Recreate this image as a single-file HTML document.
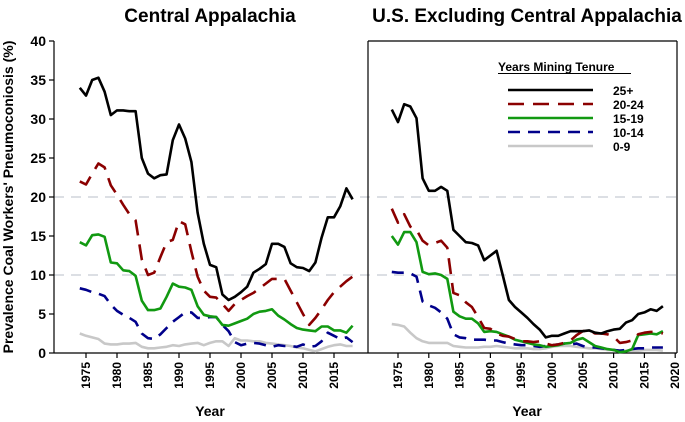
<!DOCTYPE html>
<html><head><meta charset="utf-8"><style>
body{margin:0;background:#fff;}
svg{display:block;font-family:"Liberation Sans",Arial,sans-serif;}
</style></head><body>
<svg id="chart" width="685" height="422" viewBox="0 0 685 422" xmlns="http://www.w3.org/2000/svg"></svg>
<script>
const years = [];
for (let y = 1974; y <= 2018; y++) years.push(y);
const yTicks = [0,5,10,15,20,25,30,35,40];
const leftXTicks = [1975,1980,1985,1990,1995,2000,2005,2010,2015];
const rightXTicks = [1975,1980,1985,1990,1995,2000,2005,2010,2015,2020];
const seriesNames = ["25+","20-24","15-19","10-14","0-9"];
const caBlack = [34,33,35,35.3,33.5,30.5,31.1,31.1,31,31,25,23,22.4,22.8,22.9,27.3,29.3,27.5,24.5,18,14,11.3,11,7.5,6.8,7.2,7.8,8.5,10.3,10.8,11.4,14,14,13.6,11.5,11,10.9,10.5,11.6,14.8,17.4,17.4,18.8,21.1,19.7];
const caRed = [22,21.6,23,24.3,23.8,21.5,20.3,19,17.8,17,12,10,10.3,12.3,14.2,14.5,16.9,16.5,13,9.8,8,7.2,7.1,6.3,5.4,6.3,6.8,7.3,7.7,8.3,8.9,9.5,9.5,9.5,8,6.5,5,3.6,4.5,5.6,6.8,7.8,8.5,9.2,9.8];
const caGreen = [14.2,13.8,15.1,15.2,14.9,11.6,11.5,10.6,10.5,9.9,6.7,5.5,5.5,5.7,7.2,8.9,8.5,8.4,8.1,6,4.9,4.7,4.6,3.6,3.5,3.8,4.1,4.4,5,5.3,5.4,5.6,4.8,4.3,3.7,3.2,3.0,2.9,2.8,3.4,3.4,2.9,2.9,2.6,3.5];
const caBlue = [8.3,8.1,7.8,7.6,7.3,6.2,5.4,4.9,4.5,4,2.5,1.9,1.8,2.4,3.2,4,4.6,5.2,5.2,4.5,4.5,4.6,4.6,3.6,2.8,1.4,1,1.2,1.3,1.2,1,0.8,1,0.9,0.9,0.8,1.1,0.8,0.9,1.5,2.6,2.2,1.8,2,1.4];
const caGray = [2.5,2.2,2,1.8,1.2,1.1,1.1,1.2,1.2,1.3,0.8,0.6,0.6,0.7,0.8,1,0.9,1.1,1.2,1.3,1,1.3,1.5,1.5,0.9,1.9,1.6,1.6,1.5,1.5,1.3,1.2,1.1,1,0.9,0.7,0.6,0.4,0.2,0.5,0.8,1,1.1,0.9,0.9];
const usBlack = [31.2,29.6,31.9,31.6,30.1,22.4,20.8,20.8,21.3,20.8,15.8,15,14.2,14.1,13.8,11.9,12.5,13.1,10,6.8,5.9,5.2,4.5,3.7,3,2,2.2,2.2,2.5,2.8,2.8,2.8,2.9,2.6,2.5,2.8,3,3.1,3.9,4.2,5,5.2,5.6,5.4,6];
const usRed = [18.5,16.7,17.8,16.2,15.8,14.4,13.8,14.1,14.4,13.5,7.7,7.4,6.5,5.9,4.6,3.2,3.1,2.5,2.2,2.1,1.8,1.5,1.5,1.4,1.5,1.2,1,1.1,1.3,1.6,2.3,2.8,2.9,2.5,2.5,2.4,2.1,1.3,1.4,1.6,2.4,2.6,2.7,2.7,2.5];
const usGreen = [15,13.9,15.5,15.5,14.2,10.4,10.1,10.2,10,9.5,5.3,4.7,4.4,4.4,3.8,2.7,2.8,2.7,2.4,2.1,1.7,1.5,1.3,1.1,1,0.8,0.9,1,1.2,1.3,1.7,1.9,1.4,0.9,0.7,0.5,0.4,0.1,0.2,0.5,2.3,2.4,2.5,2.4,2.8];
const usBlue = [10.4,10.3,10.3,10.2,9.8,6.6,6.1,5.8,5.2,4.4,2.4,2,1.9,1.7,1.7,1.7,1.6,1.6,1.4,1.2,1.1,1,1,0.9,0.8,0.9,1,1.1,1.2,1.1,1.2,0.9,0.7,0.7,0.6,0.5,0.4,0.3,0.4,0.5,0.6,0.6,0.7,0.7,0.7];
const usGray = [3.7,3.6,3.4,2.6,1.9,1.5,1.3,1.3,1.3,1.3,0.9,0.8,0.7,0.7,0.7,0.8,0.8,0.9,0.8,0.7,0.6,0.6,0.6,0.5,0.5,0.6,0.8,0.9,0.9,0.9,0.8,0.7,0.6,0.6,0.5,0.4,0.4,0.3,0.3,0.3,0.3,0.4,0.4,0.4,0.3];

const styles = [
  {c:"#000000", d:""},
  {c:"#8b0000", d:"16,9"},
  {c:"#119911", d:""},
  {c:"#00008b", d:"12,8"},
  {c:"#c8c8c8", d:""}
];
const svg = document.getElementById('chart');
const NS = "http://www.w3.org/2000/svg";
function el(tag, attrs, parent){
  const e = document.createElementNS(NS, tag);
  for (const k in attrs) e.setAttribute(k, attrs[k]);
  (parent||svg).appendChild(e);
  return e;
}
const Y0 = 353, Y40 = 41;
function yScale(v){ return Y0 - (v/40)*(Y0-Y40); }
function xLeft(yr){ return 86 + (yr-1975)*6.2; }
function xRight(yr){ return 398 + (yr-1975)*6.16; }

[10,20].forEach(v=>{
  const g = el('line',{x1:54,x2:680,y1:yScale(v),y2:yScale(v),stroke:"#c8ccd4","stroke-width":1.3,"stroke-dasharray":"10,7"});
  
  
});

const ax = el('g',{stroke:"#000","stroke-width":1.2,fill:"none"});


el('line',{x1:54,y1:41,x2:54,y2:353},ax);
el('line',{x1:54,y1:353,x2:677,y2:353},ax);
el('line',{x1:368,y1:41,x2:368,y2:353},ax);
el('line',{x1:368,y1:41,x2:677,y2:41},ax);
el('line',{x1:677,y1:41,x2:677,y2:353},ax);

yTicks.forEach(v=>{
  const y = yScale(v);
  el('line',{x1:49,x2:54,y1:y,y2:y,stroke:"#000","stroke-width":1.2});
  const t = el('text',{x:46,y:y+5,"text-anchor":"end","font-size":14,"font-weight":"bold"});
  t.textContent = v;
  
  
});
function xTicks(list, fx){
  list.forEach(yr=>{
    const x = fx(yr);
    el('line',{x1:x,x2:x,y1:353,y2:358,stroke:"#000","stroke-width":1.2});
    const t = el('text',{x:0,y:0,"text-anchor":"end","font-size":12,"font-weight":"bold",transform:`translate(${x+4},362) rotate(-90)`});
    t.textContent = yr;
    
    
  });
}
xTicks(leftXTicks, xLeft);
xTicks(rightXTicks, xRight);

function drawSeries(data, fx, idx, name){
  const pts = data.map((v,i)=>fx(years[i]).toFixed(1)+","+yScale(v).toFixed(1)).join(" ");
  const p = el('polyline',{points:pts,fill:"none",stroke:styles[idx].c,"stroke-width":2.6,"stroke-linejoin":"round"});
  if (styles[idx].d) p.setAttribute('stroke-dasharray', styles[idx].d);
  
  
}
const caSets = [caBlack, caRed, caGreen, caBlue, caGray];
const usSets = [usBlack, usRed, usGreen, usBlue, usGray];
[4,3,2,1,0].forEach(i=>{
  drawSeries(caSets[i], xLeft, i, 'central-appalachia-line-'+seriesNames[i]);
  drawSeries(usSets[i], xRight, i, 'us-excluding-line-'+seriesNames[i]);
});

function txt(x,y,s,attrs,name){
  const t = el('text',Object.assign({x:x,y:y},attrs));
  t.textContent = s;
  
  
  return t;
}
txt(210,22,"Central Appalachia",{"text-anchor":"middle","font-size":19,"font-weight":"bold"},"left-panel-title");
txt(527,22,"U.S. Excluding Central Appalachia",{"text-anchor":"middle","font-size":19,"font-weight":"bold"},"right-panel-title");
txt(210,416,"Year",{"text-anchor":"middle","font-size":14,"font-weight":"bold"},"left-x-axis-title");
txt(527,416,"Year",{"text-anchor":"middle","font-size":14,"font-weight":"bold"},"right-x-axis-title");
txt(0,0,"Prevalence Coal Workers' Pneumoconiosis (%)",{"text-anchor":"middle","font-size":14,"font-weight":"bold",transform:"translate(13,197) rotate(-90)"},"y-axis-title");

const lg = el('g',{});


const lt = el('text',{x:498,y:71,"font-size":12,"font-weight":"bold"},lg);
lt.textContent = "Years Mining Tenure";


el('line',{x1:498,x2:631,y1:73.5,y2:73.5,stroke:"#000","stroke-width":1},lg);
seriesNames.forEach((n,i)=>{
  const y = 90 + i*14;
  const l = el('line',{x1:508,x2:593,y1:y,y2:y,stroke:styles[i].c,"stroke-width":2.6},lg);
  if (styles[i].d) l.setAttribute('stroke-dasharray', styles[i].d);
  
  
  const t = el('text',{x:613,y:y+5,"font-size":12,"font-weight":"bold"},lg);
  t.textContent = n;
  
  
});
</script>
</body></html>
